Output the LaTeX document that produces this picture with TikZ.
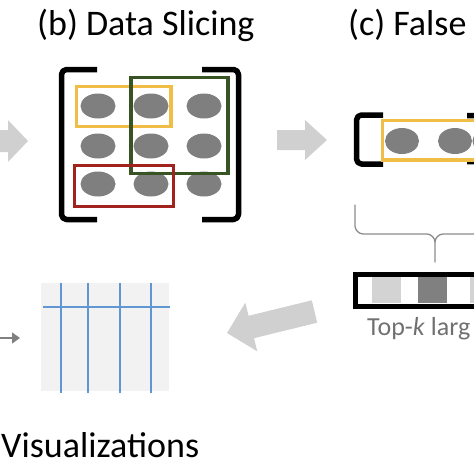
\documentclass[tikz,border=0pt]{standalone}
\usepackage{fontspec}
\setmainfont{Carlito}
\usepackage{tikz}
\usetikzlibrary{arrows.meta}

\definecolor{dotgray}{RGB}{127,127,127}
\definecolor{arrowgray}{RGB}{208,208,208}
\definecolor{sliceyellow}{RGB}{240,190,70}
\definecolor{slicegreen}{RGB}{56,84,36}
\definecolor{slicered}{RGB}{162,34,30}
\definecolor{bracegray}{RGB}{140,140,140}
\definecolor{textgray}{RGB}{112,112,112}
\definecolor{lightcell}{RGB}{211,211,211}
\definecolor{darkcell}{RGB}{128,128,128}
\definecolor{gridbg}{RGB}{242,242,242}
\definecolor{gridblue}{RGB}{96,150,210}

\begin{document}
\begin{tikzpicture}[line cap=round,line join=round,x=1pt,y=-1pt,
    title/.style={font=\fontsize{36}{40}\selectfont,inner sep=0pt},
    slicebox/.style={line width=3.3pt,line cap=butt,line join=miter},
    bracket/.style={line width=5.5pt,rounded corners=5pt,line cap=butt}]
      \clip (0,0) rectangle (474,474);

      % titles
      \node[title,anchor=base west] (slicing) at (37,35) {(b) Data Slicing};
      \node[title,anchor=base west] (false) at (348,35) {(c) False};
      \node[title,anchor=base west] (vis) at (1,457) {Visualizations};

      % block arrows
      \fill[arrowgray] (-10,130) -- (8,130) -- (8,120) -- (28,141) -- (8,162) -- (8,152) -- (-10,152) -- cycle;
      \fill[arrowgray] (277,130) -- (305,130) -- (305,120) -- (327,140) -- (305,160) -- (305,150) -- (277,150) -- cycle;
      \fill[arrowgray] (311.8,300.3) -- (248.6,315.8) -- (245.3,302.7) -- (227,333) -- (257.3,351.3) -- (254.0,338.2) -- (317.2,322.7) -- cycle;

      % data matrix
      \draw[bracket] (97,69.5) -- (61.5,69.5) -- (61.5,219.5) -- (97,219.5);
      \draw[bracket] (202,69.5) -- (238.5,69.5) -- (238.5,219.5) -- (202,219.5);
      \foreach \x in {98,151,204}{
        \foreach \y in {106,146,184}{
          \fill[dotgray] (\x,\y) ellipse [x radius=17.5pt, y radius=12.5pt];
        }
      }
      \draw[slicebox,color=sliceyellow] (76.7,86.7) rectangle (171,126.7);
      \draw[slicebox,color=slicegreen] (131,77.7) rectangle (228,173.3);
      \draw[slicebox,color=slicered] (74.3,165.7) rectangle (173.3,206.7);

      % one slice
      \draw[bracket] (383,115) -- (356.5,115) -- (356.5,164) -- (383,164);
      \draw[bracket] (467,115.5) -- (492,115.5) -- (492,161.5) -- (467,161.5);
      \draw[slicebox,color=sliceyellow] (382.5,120.5) rectangle (530,160);
      \foreach \x in {402,455,489.5}{
        \fill[dotgray] (\x,141) ellipse [x radius=17pt, y radius=13pt];
      }

      % brace
      \draw[bracegray,line width=1.3pt] (355,205) -- (355,226) .. controls (355,230) and (359,234) .. (363,234) -- (427,234)
        .. controls (431,234) and (435,238) .. (435,242) -- (435,262);
      \draw[bracegray,line width=1.3pt] (435,242) .. controls (435,238) and (439,234) .. (443,234) -- (480,234);

      % score bar
      \fill[lightcell] (372,277) rectangle (401,303);
      \fill[darkcell] (418,277) rectangle (447,303);
      \fill[lightcell] (470,277) rectangle (499,303);
      \draw[line width=4.5pt,line join=miter] (355.5,274.5) rectangle (520,306.5);
      \node[anchor=base west,inner sep=0pt,text=textgray,font=\fontsize{26}{30}\selectfont] (topk) at (367,335) {Top-\textit{k} larg};

      % visualization grid
      \fill[gridbg] (41,283) rectangle (169,391);
      \foreach \x in {61,88,120,151}{
        \draw[gridblue,line width=1.3pt,line cap=butt] (\x,283) -- (\x,393);
      }
      \draw[gridblue,line width=1.3pt,line cap=butt] (43,307) -- (170,307);

      \coordinate (visfrom) at (-5,338);
      \coordinate (visto) at (20,338);
      \draw[darkcell,line width=1.2pt,-{Triangle[length=8pt,width=11pt]}] (visfrom) -- (visto);
    \end{tikzpicture}
\end{document}
